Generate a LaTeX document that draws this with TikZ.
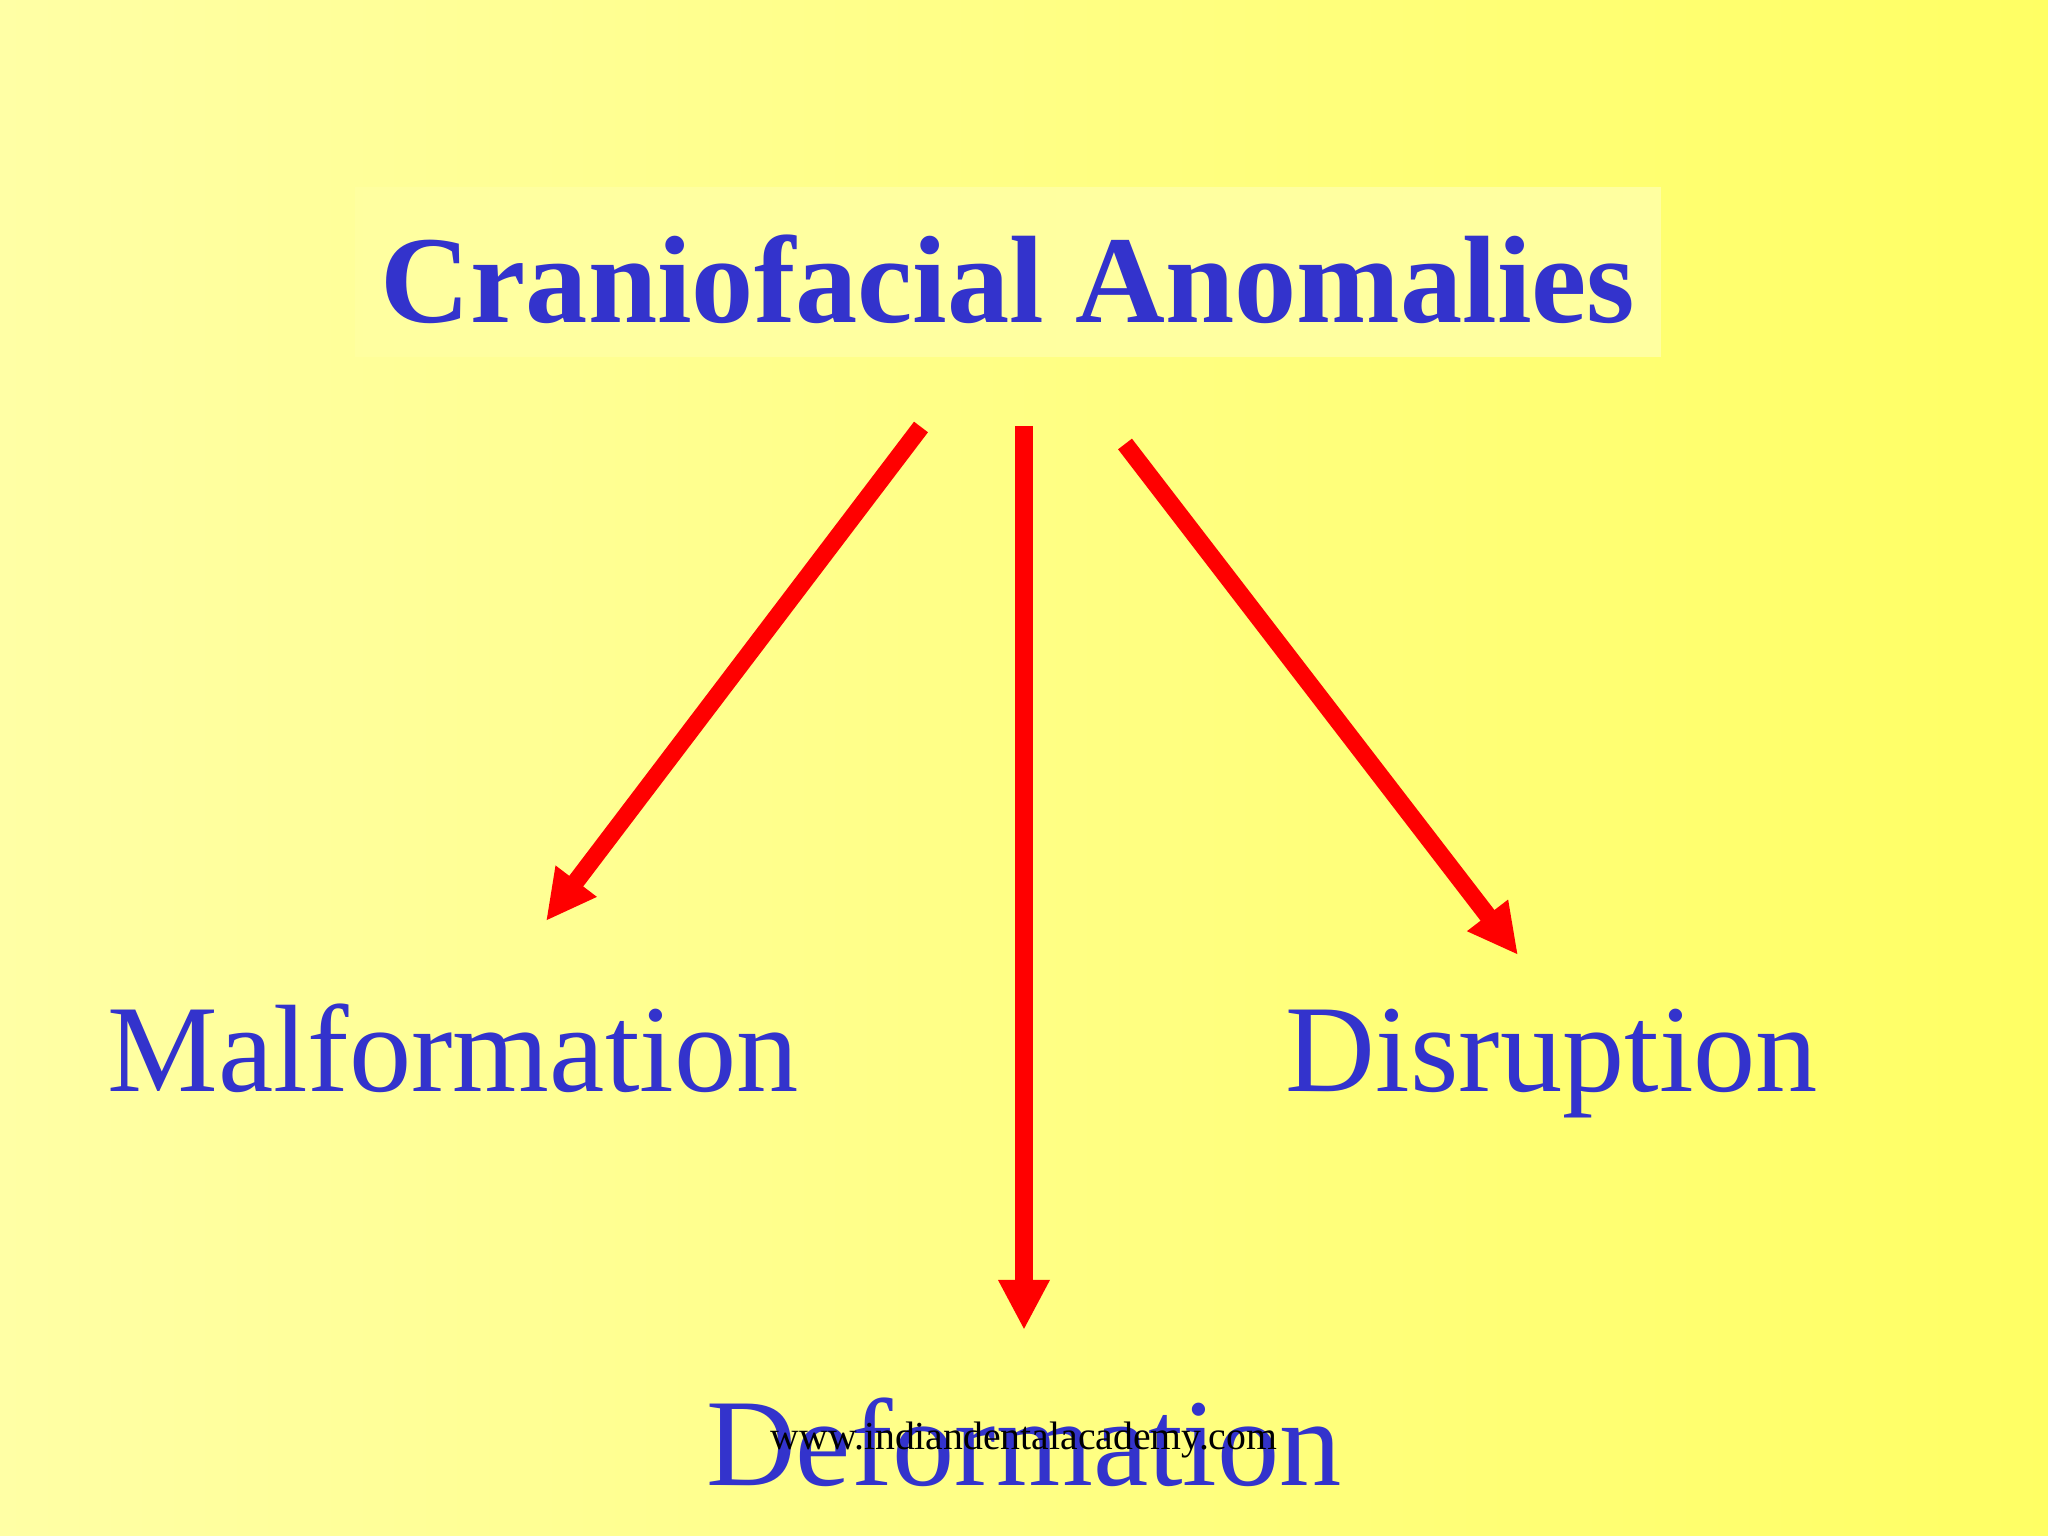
\documentclass[tikz,border=0pt]{standalone}
\usepackage{fontspec}
\setmainfont{Liberation Serif}
\usetikzlibrary{arrows.meta}
\definecolor{slideblue}{RGB}{51,51,204}
\definecolor{paleyellow}{RGB}{255,255,165}
\definecolor{deepyellow}{RGB}{255,255,100}
\definecolor{boxyellow}{RGB}{255,255,160}

\begin{document}
\begin{tikzpicture}
\tikzset{TitleStyle/.style = {anchor= base, fill= boxyellow, inner sep= 0pt, text= slideblue,
        font= \fontsize{35.4}{40}\selectfont\bfseries, minimum width= 13.06cm,
        text height= 1.36cm, text depth= 0.34cm},
    TermStyle/.style = {anchor= base, inner sep= 0pt, text= slideblue, font= \fontsize{35.4}{40}\selectfont},
    ArrowStyle/.style = {-{Triangle[width= 4.8mm, length= 5mm]}, red, line width= 1.75mm}
}

    % Background
    \useasboundingbox (0,0) rectangle (20.48,15.36);
    \shade [left color= paleyellow, right color= deepyellow] (0,0) rectangle (20.48,15.36);

   \node[TitleStyle] (title) at (10.08,12.13) {Craniofacial Anomalies};

   \node[TermStyle] (malf) at (4.53,4.44)  {Malformation};
   \node[TermStyle] (disr) at (15.52,4.44) {Disruption};
   \node[TermStyle] (defo) at (10.24,0.50) {Deformation};

   \node[anchor= base, inner sep= 0pt, font= \fontsize{11.3}{13}\selectfont] (web) at (10.24,0.86) {www.indiandentalacademy.com};

    % Arrows
   \coordinate (l-from) at (9.21,11.09);
   \coordinate (l-to)   at (5.46,6.15);
   \coordinate (m-from) at (10.24,11.10);
   \coordinate (m-to)   at (10.24,2.06);
   \coordinate (r-from) at (11.25,10.92);
   \coordinate (r-to)   at (15.18,5.81);

   \draw[ArrowStyle] (l-from) -- (l-to);
   \draw[ArrowStyle] (m-from) -- (m-to);
   \draw[ArrowStyle] (r-from) -- (r-to);
\end{tikzpicture}
\end{document}
